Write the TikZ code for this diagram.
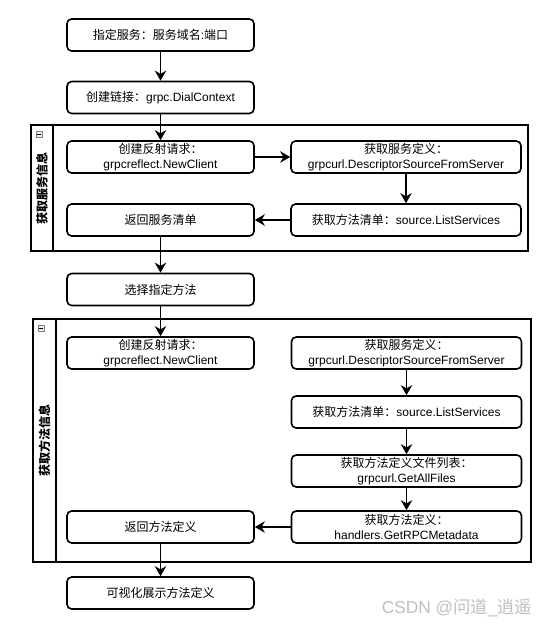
\documentclass[tikz,border=0pt]{standalone}
\usepackage{fontspec}
\setmainfont{Liberation Sans}
\newfontfamily\cjk{Noto Sans CJK SC}
\newcommand{\zh}[1]{{\cjk #1}}
\usetikzlibrary{arrows.meta}

\tikzset{
  box/.style={draw, line width=1.2pt, rounded corners=3.5pt, minimum width=140.25pt,
    minimum height=24pt, align=center, inner sep=1pt, font=\fontsize{9}{11.25}\selectfont},
  wide/.style={box, minimum width=172.5pt},
  flow/.style={-{Stealth[length=7.5pt,width=8.5pt,inset=2.4pt]}, line width=1.2pt},
  lane/.style={line width=1.7pt},
  lanetitle/.style={rotate=90, font=\fontsize{9}{11}\selectfont\bfseries},
  toggle/.style={draw=gray, fill=gray!15, line width=0.4pt, minimum size=4.5pt, inner sep=0pt},
}

\begin{document}
\begin{tikzpicture}[x=0.75pt,y=-0.75pt]
\useasboundingbox (0,0) rectangle (550,627);

% lanes
\draw[lane] (31,125) rectangle (528,251);
\draw[lane] (53,125) -- (53,251);
\draw[lane] (33,319) rectangle (531,562);
\draw[lane] (56,319) -- (56,562);
\node[lanetitle] (title1) at (42,188) {\zh{获取服务信息}};
\node[lanetitle] (title2) at (44.5,440) {\zh{获取方法信息}};
\node[toggle] (tog1) at (39,134) {};
\node[toggle] (tog2) at (41,328) {};
\draw[line width=0.5pt] (37.3,134) -- (40.7,134);
\draw[line width=0.5pt] (39.3,328) -- (42.7,328);

% steps
\node[box] (start) at (160.5,35) {\zh{指定服务：服务域名}:\zh{端口}};
\node[box] (conn) at (160.5,97.5) {\zh{创建链接：}grpc.DialContext};
\node[box] (refl1) at (160.5,157) {\zh{创建反射请求：}\\grpcreflect.NewClient};
\node[wide] (desc1) at (406,157) {\zh{获取服务定义：}\\grpcurl.DescriptorSourceFromServer};
\node[wide] (list1) at (406,220) {\zh{获取方法清单：}source.ListServices};
\node[box] (back1) at (160.5,220) {\zh{返回服务清单}};
\node[box] (pick) at (160.5,289.5) {\zh{选择指定方法}};
\node[box] (refl2) at (160.5,353) {\zh{创建反射请求：}\\grpcreflect.NewClient};
\node[wide] (desc2) at (406.5,353) {\zh{获取服务定义：}\\grpcurl.DescriptorSourceFromServer};
\node[wide] (list2) at (406.5,412) {\zh{获取方法清单：}source.ListServices};
\node[wide] (files2) at (406.5,471) {\zh{获取方法定义文件列表：}\\grpcurl.GetAllFiles};
\node[wide] (meta2) at (406.5,527) {\zh{获取方法定义：}\\handlers.GetRPCMetadata};
\node[box] (back2) at (160.5,527) {\zh{返回方法定义}};
\node[box] (show) at (160.5,593) {\zh{可视化展示方法定义}};

\node[text=gray!50, font=\fontsize{13}{15}\selectfont, anchor=east] (mark) at (537,608) {CSDN @\zh{问道}\_\zh{逍遥}};

% connectors
\draw[flow] (start) -- (conn);
\draw[flow] (conn) -- (refl1);
\draw[flow] (refl1) -- (desc1);
\draw[flow] (desc1) -- (list1);
\draw[flow] (list1) -- (back1);
\draw[flow] (back1) -- (pick);
\draw[flow] (pick) -- (refl2);
\draw[flow] (desc2) -- (list2);
\draw[flow] (list2) -- (files2);
\draw[flow] (files2) -- (meta2);
\draw[flow] (meta2) -- (back2);
\draw[flow] (back2) -- (show);
\end{tikzpicture}
\end{document}
